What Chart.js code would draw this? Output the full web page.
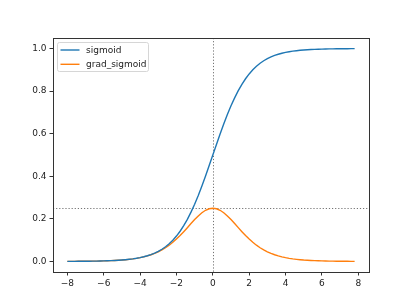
<!DOCTYPE html>
<html>
<head>
<meta charset="utf-8">
<script src="https://cdn.jsdelivr.net/npm/chart.js@4/dist/chart.umd.min.js"></script>
<style>
html,body{margin:0;padding:0;background:#fff;}
#wrap{width:411px;height:307px;position:relative;}
</style>
</head>
<body>
<div id="wrap"><canvas id="c" width="411" height="307"></canvas></div>
<script>
// x positions (step 0.2 from -8 to 7.8)
const xValues = [
-8.0,-7.8,-7.6,-7.4,-7.2,-7.0,-6.8,-6.6,-6.4,-6.2,
-6.0,-5.8,-5.6,-5.4,-5.2,-5.0,-4.8,-4.6,-4.4,-4.2,
-4.0,-3.8,-3.6,-3.4,-3.2,-3.0,-2.8,-2.6,-2.4,-2.2,
-2.0,-1.8,-1.6,-1.4,-1.2,-1.0,-0.8,-0.6,-0.4,-0.2,
0.0,0.2,0.4,0.6,0.8,1.0,1.2,1.4,1.6,1.8,
2.0,2.2,2.4,2.6,2.8,3.0,3.2,3.4,3.6,3.8,
4.0,4.2,4.4,4.6,4.8,5.0,5.2,5.4,5.6,5.8,
6.0,6.2,6.4,6.6,6.8,7.0,7.2,7.4,7.6,7.8
];
const sigmoidValues = [
0.0003,0.0004,0.0005,0.0006,0.0007,0.0009,0.0011,0.0014,0.0017,0.0020,
0.0025,0.0030,0.0037,0.0045,0.0055,0.0067,0.0082,0.0100,0.0121,0.0148,
0.0180,0.0219,0.0266,0.0323,0.0392,0.0474,0.0573,0.0691,0.0832,0.0998,
0.1192,0.1419,0.1680,0.1978,0.2315,0.2689,0.3100,0.3543,0.4013,0.4502,
0.5000,0.5498,0.5987,0.6457,0.6900,0.7311,0.7685,0.8022,0.8320,0.8581,
0.8808,0.9002,0.9168,0.9309,0.9427,0.9526,0.9608,0.9677,0.9734,0.9781,
0.9820,0.9852,0.9879,0.9900,0.9918,0.9933,0.9945,0.9955,0.9963,0.9970,
0.9975,0.9980,0.9983,0.9986,0.9989,0.9991,0.9993,0.9994,0.9995,0.9996
];
const gradSigmoidValues = [
0.0003,0.0004,0.0005,0.0006,0.0007,0.0009,0.0011,0.0014,0.0017,0.0020,
0.0025,0.0030,0.0037,0.0045,0.0055,0.0066,0.0081,0.0099,0.0120,0.0146,
0.0177,0.0214,0.0259,0.0313,0.0376,0.0452,0.0540,0.0644,0.0763,0.0898,
0.1050,0.1217,0.1398,0.1587,0.1779,0.1966,0.2139,0.2288,0.2403,0.2475,
0.2500,0.2475,0.2403,0.2288,0.2139,0.1966,0.1779,0.1587,0.1398,0.1217,
0.1050,0.0898,0.0763,0.0644,0.0540,0.0452,0.0376,0.0313,0.0259,0.0214,
0.0177,0.0146,0.0120,0.0099,0.0081,0.0066,0.0055,0.0045,0.0037,0.0030,
0.0025,0.0020,0.0017,0.0014,0.0011,0.0009,0.0007,0.0006,0.0005,0.0004
];
const seriesLabels = ["sigmoid", "grad_sigmoid"];
const xTicks = [-8, -6, -4, -2, 0, 2, 4, 6, 8];
const yTicks = [0.0, 0.2, 0.4, 0.6, 0.8, 1.0];
const refLineX = 0;      // vertical dotted line
const refLineY = 0.25;   // horizontal dotted line

const COLORS = ["#1f77b4", "#ff7f0e"];
const FONT = "'DejaVu Sans', sans-serif";

function pts(ys){ return xValues.map((x,i)=>({x:x,y:ys[i]})); }

const fmtX = v => { const s = String(v); return v < 0 ? "\u2212" + String(-v) : s; };
const fmtY = v => v.toFixed(1);

const framePlugin = {
  id: 'frame',
  beforeDatasetsDraw(chart){
    const {ctx, chartArea:a, scales} = chart;
    ctx.save();
    ctx.strokeStyle = 'rgba(70,70,70,0.75)';
    ctx.lineWidth = 1;
    ctx.setLineDash([1.2, 1.9]);
    const px = Math.round(scales.x.getPixelForValue(refLineX)) + 0.5;
    const py = Math.round(scales.y.getPixelForValue(refLineY)) + 0.5;
    ctx.beginPath(); ctx.moveTo(px, a.top); ctx.lineTo(px, a.bottom); ctx.stroke();
    ctx.beginPath(); ctx.moveTo(a.left, py); ctx.lineTo(a.right, py); ctx.stroke();
    ctx.restore();
  },
  afterDatasetsDraw(chart){
    const {ctx, chartArea:a} = chart;
    ctx.save();
    ctx.strokeStyle = '#333';
    ctx.lineWidth = 1;
    ctx.strokeRect(Math.round(a.left)+0.5, Math.round(a.top)+0.5, Math.round(a.right-a.left), Math.round(a.bottom-a.top));
    // legend
    const bx = Math.round(a.left) + 4.5, by = Math.round(a.top) + 4.5;
    const bw = 91, bh = 29;
    ctx.fillStyle = 'rgba(255,255,255,0.8)';
    ctx.strokeStyle = '#d6d6d6';
    ctx.beginPath();
    if (ctx.roundRect) ctx.roundRect(bx, by, bw, bh, 2); else ctx.rect(bx, by, bw, bh);
    ctx.fill(); ctx.stroke();
    ctx.font = "9px " + FONT;
    ctx.textBaseline = 'middle';
    chart.data.datasets.forEach((ds, i) => {
      const ry = by + 7.5 + i * 14.3;
      ctx.strokeStyle = ds.borderColor;
      ctx.lineWidth = 1.4;
      ctx.beginPath(); ctx.moveTo(bx + 3, ry); ctx.lineTo(bx + 22, ry); ctx.stroke();
      ctx.fillStyle = '#222';
      ctx.fillText(ds.label, bx + 28.5, ry + 0.5);
    });
    ctx.restore();
  }
};

new Chart(document.getElementById('c'), {
  type: 'line',
  data: {
    datasets: [
      { label: seriesLabels[0], data: pts(sigmoidValues), borderColor: COLORS[0], borderWidth: 1.4, pointRadius: 0, tension: 0, fill: false },
      { label: seriesLabels[1], data: pts(gradSigmoidValues), borderColor: COLORS[1], borderWidth: 1.4, pointRadius: 0, tension: 0, fill: false }
    ]
  },
  options: {
    responsive: false,
    animation: false,
    layout: { padding: { left: 0, right: 42, top: 38, bottom: 0 } },
    plugins: { legend: { display: false }, tooltip: { enabled: false } },
    scales: {
      x: {
        type: 'linear',
        min: -8.79, max: 8.59,
        afterBuildTicks: s => { s.ticks = xTicks.map(v => ({value: v})); },
        afterFit: s => { s.height = 35; },
        grid: { drawOnChartArea: false, drawTicks: true, tickLength: 3.5, tickColor: '#333', tickWidth: 1 },
        border: { display: false },
        ticks: { color: '#222', font: { family: FONT, size: 9 }, padding: 3, maxRotation: 0, autoSkip: false, callback: v => fmtX(v) }
      },
      y: {
        type: 'linear',
        min: -0.0496, max: 1.0496,
        afterBuildTicks: s => { s.ticks = yTicks.map(v => ({value: v})); },
        afterFit: s => { s.width = 53; },
        grid: { drawOnChartArea: false, drawTicks: true, tickLength: 3.5, tickColor: '#333', tickWidth: 1 },
        border: { display: false },
        ticks: { color: '#222', font: { family: FONT, size: 9 }, padding: 3, autoSkip: false, callback: v => fmtY(v) }
      }
    }
  },
  plugins: [framePlugin]
});
</script>
</body>
</html>
